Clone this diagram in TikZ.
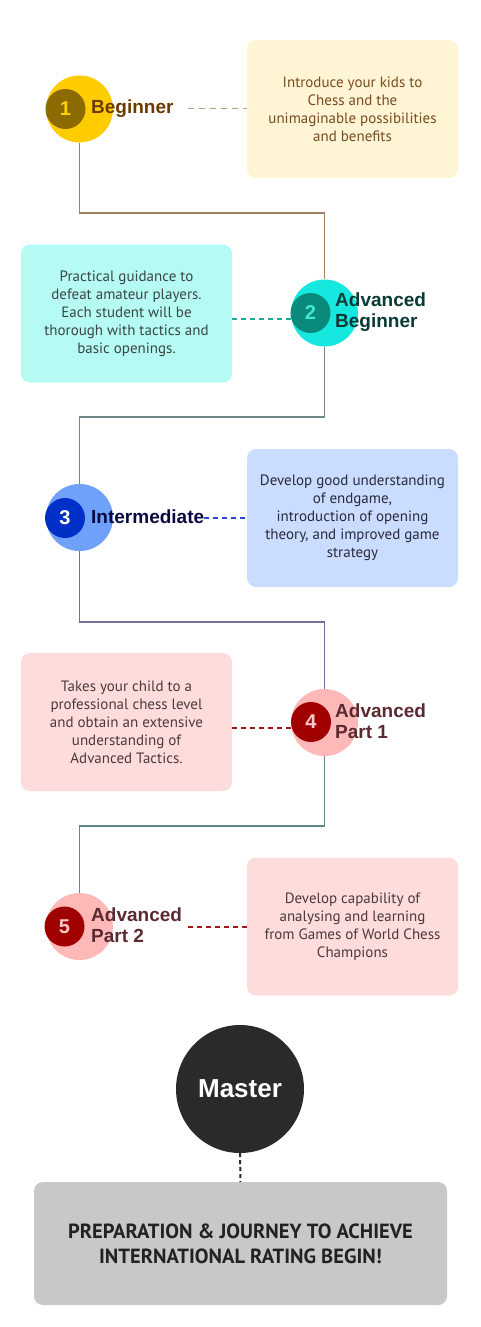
\documentclass[tikz,border=0pt]{standalone}
\usepackage{fontspec}
\setmainfont{PT Sans}
\newfontfamily\headfont{Liberation Sans}
\usetikzlibrary{backgrounds,calc}
\definecolor{aBig}{HTML}{FFCC00}\definecolor{aSmall}{HTML}{8B6A00}\definecolor{aNum}{HTML}{FFD000}
\definecolor{aLab}{HTML}{6B3A00}\definecolor{aBox}{HTML}{FFF5D5}\definecolor{aTxt}{HTML}{7A4A20}\definecolor{aDash}{HTML}{B8A080}
\definecolor{bBig}{HTML}{16E8E0}\definecolor{bSmall}{HTML}{0A8A7A}\definecolor{bNum}{HTML}{40E8D8}
\definecolor{bLab}{HTML}{0A3A35}\definecolor{bBox}{HTML}{B5FBF3}\definecolor{bTxt}{HTML}{3A4545}\definecolor{bDash}{HTML}{20A898}
\definecolor{cBig}{HTML}{6FA0FA}\definecolor{cSmall}{HTML}{0030C8}\definecolor{cNum}{HTML}{FFFFFF}
\definecolor{cLab}{HTML}{0A0A40}\definecolor{cBox}{HTML}{CADCFF}\definecolor{cTxt}{HTML}{2A2A3A}\definecolor{cDash}{HTML}{2848D0}
\definecolor{dBig}{HTML}{FFB8B8}\definecolor{dSmall}{HTML}{A00000}\definecolor{dNum}{HTML}{FFC8C8}
\definecolor{dLab}{HTML}{5A2A30}\definecolor{dBox}{HTML}{FFDCDC}\definecolor{dTxt}{HTML}{4A3A3A}\definecolor{dDash}{HTML}{A01818}
\definecolor{lineA}{HTML}{A08060}\definecolor{lineB}{HTML}{708888}\definecolor{lineC}{HTML}{707090}\definecolor{lineD}{HTML}{608888}
\definecolor{masterC}{HTML}{2A2A2A}\definecolor{finalBox}{HTML}{C8C8C8}\definecolor{finalTxt}{HTML}{222222}
\tikzset{
  bigcirc/.style={circle,inner sep=0pt,minimum size=67pt},
  smallcirc/.style={circle,inner sep=0pt,minimum size=40pt,font=\headfont\bfseries\fontsize{20}{22}\selectfont},
  steplabel/.style={anchor=west,align=left,inner sep=0pt,font=\headfont\bfseries\fontsize{19}{21}\selectfont},
  infobox/.style={rounded corners=9pt,minimum width=211pt,minimum height=138pt,align=center,inner sep=0pt,
    font=\fontsize{15}{18}\selectfont},
  linker/.style={line width=1.3pt},
  dashlink/.style={line width=1.8pt,dash pattern=on 5pt off 4pt},
}
\begin{document}
\begin{tikzpicture}[x=1pt,y=-1pt]
\useasboundingbox (0,0) rectangle (480,1327);
% step 1
\node[bigcirc,fill=aBig] (c1) at (79.5,109) {};
\node[smallcirc,fill=aSmall,text=aNum] (s1) at (65.5,109) {1};
\node[steplabel,text=aLab] (l1) at (91,109) {Beginner};
\node[infobox,fill=aBox,text=aTxt] (b1) at (352.5,109) {Introduce your kids to\\Chess and the\\unimaginable possibilities\\and benefits};
\coordinate (d1) at (188,109);
\draw[aDash,line width=1pt,dash pattern=on 6pt off 5pt] (d1) -- (d1 -| b1.west);
% step 2
\node[bigcirc,fill=bBig] (c2) at (324.5,313) {};
\node[smallcirc,fill=bSmall,text=bNum] (s2) at (310.5,313) {2};
\node[steplabel,text=bLab] (l2) at (335,312.5) {Advanced\\Beginner};
\node[infobox,fill=bBox,text=bTxt] (b2) at (126.5,313.5) {Practical guidance to\\defeat amateur players.\\Each student will be\\thorough with tactics and\\basic openings.};
\coordinate (d2) at (291,319);
\draw[bDash,dashlink] (d2 -| b2.east) -- (d2);
% step 3
\node[bigcirc,fill=cBig] (c3) at (79.5,517.5) {};
\node[smallcirc,fill=cSmall,text=cNum] (s3) at (65,518) {3};
\node[steplabel,text=cLab] (l3) at (91,517) {Intermediate};
\node[infobox,fill=cBox,text=cTxt] (b3) at (352.5,518) {Develop good understanding\\of endgame,\\introduction of opening\\theory, and improved game\\strategy};
\draw[cDash,dashlink] (l3.east |- b3.west) -- (b3.west);
% step 4
\node[bigcirc,fill=dBig] (c4) at (324.5,722.5) {};
\node[smallcirc,fill=dSmall,text=dNum] (s4) at (311,722) {4};
\node[steplabel,text=dLab] (l4) at (335,721) {Advanced\\Part 1};
\node[infobox,fill=dBox,text=dTxt] (b4) at (126.5,722) {Takes your child to a\\professional chess level\\and obtain an extensive\\understanding of\\Advanced Tactics.};
\coordinate (d4) at (291,728);
\draw[dDash,dashlink] (d4 -| b4.east) -- (d4);
% step 5
\node[bigcirc,fill=dBig] (c5) at (79.5,926.5) {};
\node[smallcirc,fill=dSmall,text=dNum] (s5) at (64.5,926.5) {5};
\node[steplabel,text=dLab] (l5) at (91,925.5) {Advanced\\Part 2};
\node[infobox,fill=dBox,text=dTxt] (b5) at (352.5,926.5) {Develop capability of\\analysing and learning\\from Games of World Chess\\Champions};
\coordinate (d5) at (188,927);
\draw[dDash,dashlink] (d5) -- (d5 -| b5.west);
% master
\node[circle,inner sep=0pt,minimum size=128pt,fill=masterC,text=white,font=\headfont\bfseries\fontsize{26}{28}\selectfont] (m) at (240,1089) {Master};
\node[rounded corners=9pt,fill=finalBox,minimum width=413pt,minimum height=123pt,inner sep=0pt,align=center,text=finalTxt,font=\bfseries\fontsize{20.5}{25}\selectfont] (fin) at (240.5,1243.5) {PREPARATION \& JOURNEY TO ACHIEVE\\INTERNATIONAL RATING BEGIN!};
\draw[masterC,line width=2pt,dash pattern=on 4pt off 3pt] (m.south) -- (fin.north);
% connectors
\begin{scope}[on background layer]
\coordinate (j1) at (200,213);
\coordinate (j2) at (200,417);
\coordinate (j3) at (200,622);
\coordinate (j4) at (200,826);
\draw[lineA,linker] (c1.south) |- (j1) -| (c2.north);
\draw[lineB,linker] (c2.south) |- (j2) -| (c3.north);
\draw[lineC,linker] (c3.south) |- (j3) -| (c4.north);
\draw[lineD,linker] (c4.south) |- (j4) -| (c5.north);
\end{scope}
\end{tikzpicture}
\end{document}
